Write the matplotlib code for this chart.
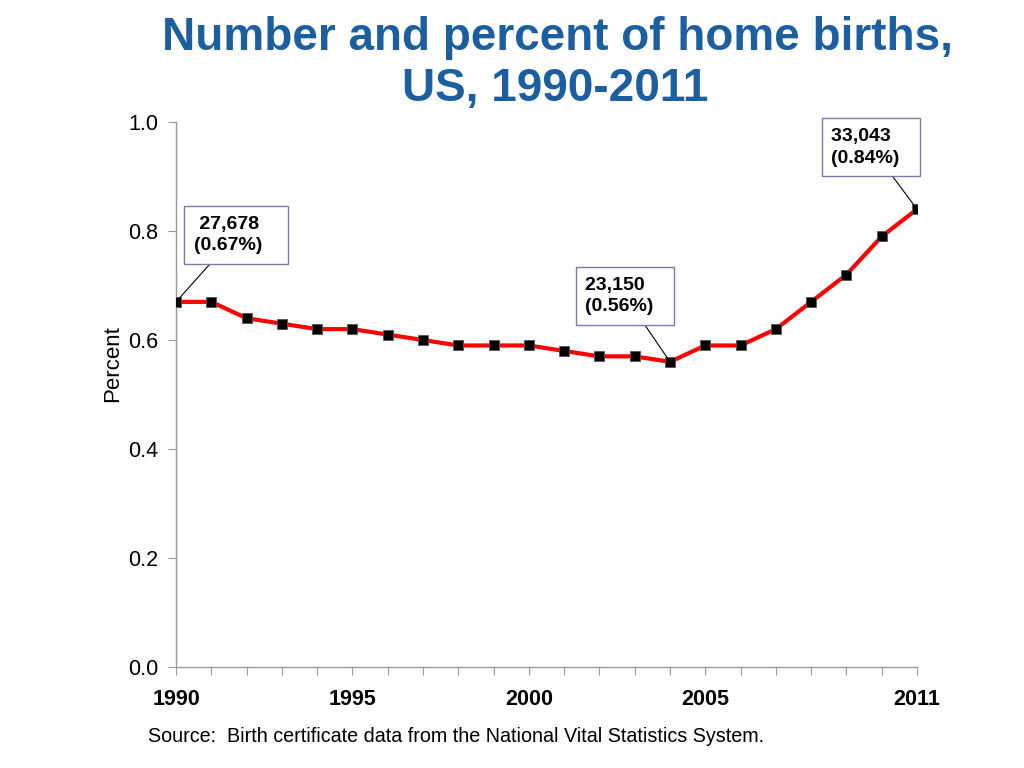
import matplotlib
matplotlib.use('Agg')
import matplotlib.pyplot as plt
from matplotlib.ticker import FixedLocator, FuncFormatter

# --- dados ---
anos = list(range(1990, 2012))
percentual = [0.67, 0.67, 0.64, 0.63, 0.62, 0.62, 0.61, 0.60, 0.59, 0.59, 0.59,
              0.58, 0.57, 0.57, 0.56, 0.59, 0.59, 0.62, 0.67, 0.72, 0.79, 0.84]
anos_rotulo = [1990, 1995, 2000, 2005, 2011]
destaques_ano = [1990, 2004, 2011]
destaques_texto = [' 27,678   \n(0.67%)   ', '23,150  \n(0.56%)  ', '33,043  \n(0.84%)  ']

plt.rcParams['font.family'] = ['Liberation Sans', 'DejaVu Sans']

fig = plt.figure(figsize=(10.24, 7.68), dpi=100)
ax = fig.add_axes([0.1719, 0.1315, 0.7236, 0.7096])

ax.plot(anos, percentual, color='#FF0000', lw=3, zorder=2)
ax.plot(anos, percentual, ls='none', marker='s', ms=6.5, mfc='black',
        mec='#555555', mew=0.6, zorder=3)

ax.set_xlim(1990, 2011)
ax.set_ylim(0, 1.0)
ax.set_yticks([0, 0.2, 0.4, 0.6, 0.8, 1.0])
ax.yaxis.set_major_formatter(FuncFormatter(lambda v, p: f'{v:.1f}'))
ax.xaxis.set_major_locator(FixedLocator(anos))
ax.set_xticklabels([str(a) if a in anos_rotulo else '' for a in anos])

for s in ['top', 'right']:
    ax.spines[s].set_visible(False)
for s in ['left', 'bottom']:
    ax.spines[s].set_color('#999999')
    ax.spines[s].set_linewidth(1)

ax.tick_params(axis='y', colors='#999999', labelcolor='black', labelsize=15.5,
               length=6, direction='out', pad=7)
ax.tick_params(axis='x', colors='#999999', labelcolor='black', labelsize=15.5,
               length=6, direction='out', pad=10)
for lbl in ax.get_xticklabels():
    lbl.set_fontweight('bold')

fig.text(113 / 1024, 1 - 364 / 768, 'Percent', rotation=90, fontsize=16,
         ha='center', va='center')

# caixas de destaque
deslocamentos = [(60, 67), (-45, 66), (-46, 62)]
for ano, texto, desl in zip(destaques_ano, destaques_texto, deslocamentos):
    y = percentual[anos.index(ano)]
    ax.annotate(texto, xy=(ano, y), xytext=desl, textcoords='offset pixels',
                ha='center', va='center', multialignment='left',
                fontsize=14, fontweight='bold', linespacing=1.35,
                bbox=dict(boxstyle='square,pad=0.5', fc='white', ec='#7B78B0', lw=1),
                arrowprops=dict(arrowstyle='-', color='black', lw=0.8,
                                shrinkA=0, shrinkB=3),
                zorder=5, annotation_clip=False)

cor_titulo = '#1C5FA0'
fig.text(557 / 1024, 1 - 50 / 768, 'Number and percent of home births,',
         ha='center', va='baseline', fontsize=33, fontweight='bold', color=cor_titulo)
fig.text(555 / 1024, 1 - 101 / 768, 'US, 1990-2011',
         ha='center', va='baseline', fontsize=33, fontweight='bold', color=cor_titulo)

fig.text(148 / 1024, 1 - 737 / 768,
         'Source:  Birth certificate data from the National Vital Statistics System.',
         fontsize=14.2, ha='left', va='center')

fig.savefig('out.png', dpi=100)
